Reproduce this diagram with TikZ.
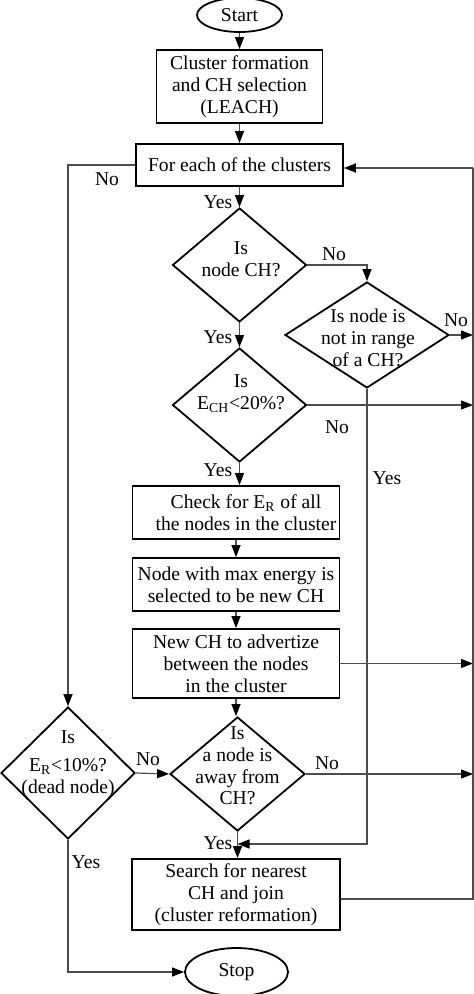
\documentclass[tikz,border=0pt]{standalone}
\usepackage{fontspec}
\setmainfont{Liberation Serif}
\usetikzlibrary{shapes.geometric,arrows.meta}
\tikzset{
  every node/.style={font=\fontsize{9.8}{10.9}\selectfont},
  box/.style={draw=black,line width=0.9pt,rectangle,inner sep=0pt,align=center},
  dia/.style={draw=black,line width=0.9pt,diamond,inner sep=0pt},
  term/.style={draw=black,line width=0.9pt,ellipse,inner sep=0pt},
  txt/.style={align=center,inner sep=0pt},
  conn/.style={draw=black!70,line width=0.6pt},
  arr/.style={conn,-{Triangle[length=6pt,width=4.5pt,color=black]}},
  lbl/.style={inner sep=0pt}
}
\begin{document}
\begin{tikzpicture}[x=0.5pt,y=-0.5pt]
\useasboundingbox (0,0) rectangle (474,994);
% nodes
\node[term,minimum width=42.5pt,minimum height=17pt] (start) at (239.5,15) {Start};
\node[box,minimum width=83pt,minimum height=36.5pt] (b1) at (239.5,86.5) {Cluster formation\\and CH selection\\(LEACH)};
\node[box,minimum width=103.5pt,minimum height=21pt] (b2) at (239.5,165) {For each of the clusters};
\node[dia,minimum width=67pt,minimum height=57pt] (d1) at (239.5,265) {};
\node[txt] (t1) at (241,259) {Is\\node CH?};
\node[dia,minimum width=82pt,minimum height=53pt] (d2) at (367,335) {};
\node[txt] (t2) at (368,338) {Is node is\\not in range\\of a CH?};
\node[dia,minimum width=67pt,minimum height=57pt] (d3) at (239.5,405) {};
\node[txt] (t3) at (241,394) {Is\\E\textsubscript{CH}<20\%?};
\node[box,minimum width=103.5pt,minimum height=26.5pt] (b3) at (236,512.5) {};
\node[txt] (t4) at (246,513) {Check for E\textsubscript{R} of all\\the nodes in the cluster};
\node[box,minimum width=103.5pt,minimum height=26.5pt] (b4) at (236,584.5) {Node with max energy is\\selected to be new CH};
\node[box,minimum width=103.5pt,minimum height=34.5pt] (b5) at (236,663.5) {New CH to advertize\\between the nodes\\in the cluster};
\node[dia,minimum width=67.5pt,minimum height=57pt] (d4) at (237.5,774) {};
\node[txt] (t5) at (237.5,766) {Is\\a node is\\away from\\CH?};
\node[dia,minimum width=67pt,minimum height=66pt] (d5) at (68,773) {};
\node[txt] (t6) at (68,764) {Is\\[3pt]E\textsubscript{R}<10\%?\\(dead node)};
\node[box,minimum width=104pt,minimum height=35.5pt] (b6) at (236,894.5) {Search for nearest\\CH and join\\(cluster reformation)};
\node[term,minimum width=51.5pt,minimum height=24pt] (stop) at (236.5,972) {Stop};
% helper coordinates
\coordinate (rtop) at (473,168);
\coordinate (rbot) at (473,899);
\coordinate (yj) at (367,844);
% connectors
\draw[arr] (start.south) -- (start.south |- b1.north);
\draw[arr] (b1.south) -- (b1.south |- b2.north);
\draw[arr] (b2.south) -- (d1.north);
\draw[arr] (d1.south) -- (d3.north);
\draw[arr] (d3.south) -- (d3.south |- b3.north);
\draw[arr] (b3.south) -- (b4.north);
\draw[arr] (b4.south) -- (b5.north);
\draw[arr] (b5.south) -- (b5.south |- d4.north);
\draw[arr] (d4.south) -- (d4.south |- b6.north);
\draw[arr] (d1.east) -| (d2.north);
\draw[arr] (d2.east) -- (d2.east -| rtop);
\draw[arr] (d3.east) -- (d3.east -| rtop);
\draw[arr] (b5.east) -- (b5.east -| rtop);
\draw[arr] (d4.east) -- (d4.east -| rtop);
\draw[arr] (d5.east) -- (d4.west);
\draw[arr] (d2.south) -- (yj) -- (yj -| d4.south);
\draw[arr] (b2.west) -| (d5.north);
\draw[arr] (d5.south) |- (stop.west);
\draw[conn,line width=0.9pt] (b6.east |- rbot) -- (rbot) -- (rtop);
\draw[arr,line width=0.9pt] (rtop) -- (rtop -| b2.east);
% labels
\node[lbl] (l1) at (107,179) {No};
\node[lbl] (l2) at (218,202) {Yes};
\node[lbl] (l3) at (334,254) {No};
\node[lbl] (l4) at (218,337) {Yes};
\node[lbl] (l5) at (456,320) {No};
\node[lbl] (l6) at (337,427) {No};
\node[lbl] (l7) at (218,470) {Yes};
\node[lbl] (l8) at (387,478) {Yes};
\node[lbl] (l9) at (148,759) {No};
\node[lbl] (l10) at (327,763) {No};
\node[lbl] (l11) at (218,843) {Yes};
\node[lbl] (l12) at (86,862) {Yes};
\end{tikzpicture}
\end{document}
